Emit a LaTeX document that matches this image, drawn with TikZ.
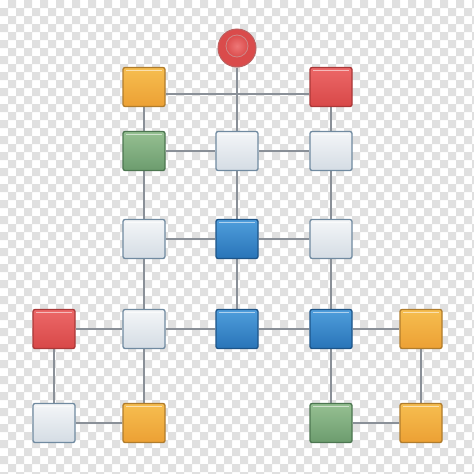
\documentclass[tikz,border=0pt]{standalone}
\usetikzlibrary{calc}
\pgfdeclarelayer{checker}
\pgfdeclarelayer{edges}
\pgfsetlayers{checker,edges,main}
\definecolor{chk}{RGB}{224,224,224}
\definecolor{lnc}{RGB}{138,144,152}
\definecolor{orT}{RGB}{246,190,80}\definecolor{orB}{RGB}{236,160,52}\definecolor{orD}{RGB}{176,124,44}
\definecolor{rdT}{RGB}{236,104,104}\definecolor{rdB}{RGB}{216,72,72}\definecolor{rdD}{RGB}{170,56,56}
\definecolor{grT}{RGB}{150,192,146}\definecolor{grB}{RGB}{108,156,110}\definecolor{grD}{RGB}{76,118,80}
\definecolor{ltT}{RGB}{244,246,248}\definecolor{ltB}{RGB}{212,220,228}\definecolor{ltD}{RGB}{112,138,160}
\definecolor{blT}{RGB}{80,158,220}\definecolor{blB}{RGB}{40,116,184}\definecolor{blD}{RGB}{28,84,136}
\tikzset{
  box/.style={rectangle, rounded corners=2pt, minimum width=42pt, minimum height=39pt, line width=1.3pt, inner sep=0pt,
    path picture={\draw[white,opacity=.55,line width=0.8pt] ([xshift=3pt,yshift=-3pt]path picture bounding box.north west) -- ([xshift=-3pt,yshift=-3pt]path picture bounding box.north east);}},
  borange/.style={box, draw=orD, top color=orT, bottom color=orB},
  bred/.style={box, draw=rdD, top color=rdT, bottom color=rdB},
  bgreen/.style={box, draw=grD, top color=grT, bottom color=grB},
  blight/.style={box, draw=ltD, top color=ltT, bottom color=ltB},
  bblue/.style={box, draw=blD, top color=blT, bottom color=blB},
  link/.style={draw=lnc, line width=1.8pt},
}
\begin{document}
\begin{tikzpicture}[x=1pt,y=-1pt]
\useasboundingbox (0,0) rectangle (474,474);
\begin{pgfonlayer}{checker}
\fill[white] (0,0) rectangle (474,474);
\fill[chk] foreach \i in {0,...,59}{ foreach \j in {0,...,59}{
   \pgfextra{\pgfmathparse{int(mod(\i+\j,2))}\let\par\pgfmathresult}
   \ifnum\par=1 (\i*8,\j*8) rectangle ++(8,8) \fi }};
\end{pgfonlayer}
% nodes
\node[circle, minimum size=38pt, inner sep=0pt, draw=rdD!80, line width=1pt, fill=rdB!90!rdT] (c) at (237,48) {};
\node[circle, minimum size=22pt, inner sep=0pt, draw=rdD!60, line width=0.8pt, inner color=rdT!90!white, outer color=rdB!85!rdT] (ci) at (237,46) {};
\node[borange] (a1) at (144,87) {};
\node[bred]    (a3) at (331,87) {};
\node[bgreen]  (b1) at (144,151) {};
\node[blight]  (b2) at (237,151) {};
\node[blight]  (b3) at (331,151) {};
\node[blight]  (c1) at (144,239) {};
\node[bblue]   (c2) at (237,239) {};
\node[blight]  (c3) at (331,239) {};
\node[bred]    (d0) at (54,329) {};
\node[blight]  (d1) at (144,329) {};
\node[bblue]   (d2) at (237,329) {};
\node[bblue]   (d3) at (331,329) {};
\node[borange] (d4) at (421,329) {};
\node[blight]  (e0) at (54,423) {};
\node[borange] (e1) at (144,423) {};
\node[bgreen]  (e3) at (331,423) {};
\node[borange] (e4) at (421,423) {};
\coordinate (j) at (237,94);
\begin{pgfonlayer}{edges}
\draw[link] (a1.east |- j) -- (a3.west |- j);
\draw[link] (c) -- (b2);
\draw[link] (a1) -- (b1); \draw[link] (a3) -- (b3);
\draw[link] (b1) -- (b2) -- (b3);
\draw[link] (b1) -- (c1); \draw[link] (b2) -- (c2); \draw[link] (b3) -- (c3);
\draw[link] (c1) -- (c2) -- (c3);
\draw[link] (c1) -- (d1); \draw[link] (c2) -- (d2); \draw[link] (c3) -- (d3);
\draw[link] (d0) -- (d1) -- (d2) -- (d3) -- (d4);
\draw[link] (d0) -- (e0); \draw[link] (d1) -- (e1); \draw[link] (d3) -- (e3); \draw[link] (d4) -- (e4);
\draw[link] (e0) -- (e1); \draw[link] (e3) -- (e4);
\end{pgfonlayer}
\end{tikzpicture}
\end{document}
